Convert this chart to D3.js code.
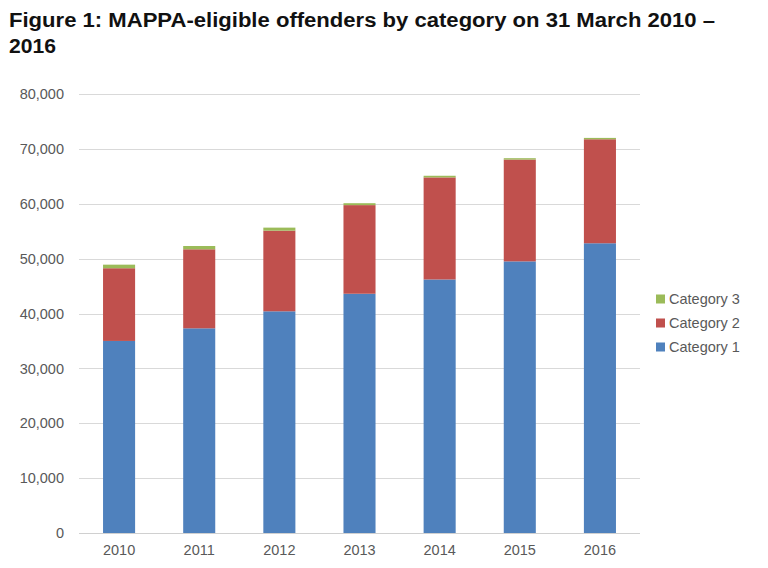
<!DOCTYPE html>
<html><head><meta charset="utf-8">
<script src="https://cdn.jsdelivr.net/npm/d3@7"></script>
<style>body{margin:0;background:#fff}svg{display:block}</style>
</head><body>
<svg id="c" width="768" height="568"></svg>
<script>
const years = ["2010","2011","2012","2013","2014","2015","2016"];
const category1 = [35000, 37300, 40400, 43600, 46200, 49500, 52800];
const category2 = [13250, 14400, 14700, 16150, 18600, 18550, 18950];
const category3 = [650, 600, 550, 350, 300, 250, 250];
const seriesNames = ["Category 1","Category 2","Category 3"];
const seriesColors = ["#4F81BD","#C0504D","#9BBB59"];
const yTicks = [0,10000,20000,30000,40000,50000,60000,70000,80000];

(function(){
const svg = d3.select("#c");
const pLeft = 79, pRight = 640, pTop = 94, pBottom = 533;
const x = d3.scaleBand().domain(years).range([pLeft, pRight]).paddingInner(0.6).paddingOuter(0.3);
const y = d3.scaleLinear().domain([0, 80000]).range([pBottom, pTop]);

// title
const title = svg.append("g").attr("font-family","Liberation Sans, Arial, sans-serif").attr("font-weight","bold").attr("font-size","19.5px").attr("fill","#111");
title.append("text").attr("x",9).attr("y",27).attr("textLength",706).attr("lengthAdjust","spacingAndGlyphs").text("Figure 1: MAPPA-eligible offenders by category on 31 March 2010 –");
title.append("text").attr("x",9).attr("y",53).attr("textLength",47).attr("lengthAdjust","spacingAndGlyphs").text("2016");

// grid
svg.append("g").selectAll("line").data(yTicks).join("line")
  .attr("x1",pLeft).attr("x2",pRight).attr("y1",d=>Math.round(y(d))+0.5).attr("y2",d=>Math.round(y(d))+0.5)
  .attr("stroke",d=>d===0?"#d0d0d0":"#d9d9d9").attr("stroke-width",1);

// y axis labels
const yAxis = d3.axisLeft(y).tickValues(yTicks).tickSize(0).tickPadding(0).tickFormat(d3.format(","));
const ya = svg.append("g").attr("transform",`translate(64,0)`).call(yAxis);
ya.select(".domain").remove();
ya.selectAll("text").attr("font-family","Liberation Sans, Arial, sans-serif").attr("font-size","14.5px").attr("fill","#595959");

// x axis labels
const xAxis = d3.axisBottom(x).tickSize(0).tickPadding(0);
const xa = svg.append("g").attr("transform",`translate(0,${pBottom+12})`).call(xAxis);
xa.select(".domain").remove();
xa.selectAll("text").attr("font-family","Liberation Sans, Arial, sans-serif").attr("font-size","14.5px").attr("fill","#595959");

// stacked bars
const rows = years.map((yr,i)=>({year:yr, c1:category1[i], c2:category2[i], c3:category3[i]}));
const stack = d3.stack().keys(["c1","c2","c3"])(rows);
svg.append("g").selectAll("g").data(stack).join("g").attr("fill",(d,i)=>seriesColors[i])
  .selectAll("rect").data(d=>d).join("rect")
  .attr("x",d=>x(d.data.year)).attr("width",x.bandwidth())
  .attr("y",d=>y(d[1])).attr("height",d=>y(d[0])-y(d[1]));

// legend
const legendOrder = [2,1,0];
const lg = svg.append("g");
legendOrder.forEach((si,k)=>{
  const cy = 299 + k*24;
  lg.append("rect").attr("x",656).attr("y",cy-4.5).attr("width",9).attr("height",9).attr("fill",seriesColors[si]);
  lg.append("text").attr("x",669).attr("y",cy).attr("dy","0.35em").attr("font-family","Liberation Sans, Arial, sans-serif").attr("font-size","14.5px").attr("fill","#595959").text(seriesNames[si]);
});
})();
</script>
</body></html>
